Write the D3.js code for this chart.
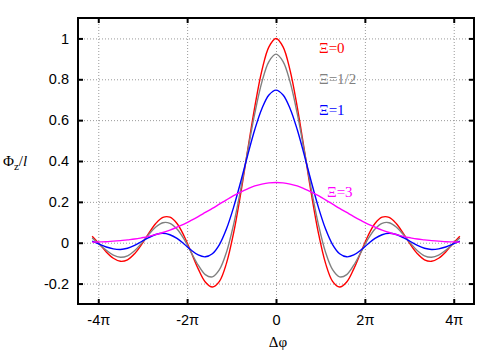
<!DOCTYPE html>
<html>
<head>
<meta charset="utf-8">
<script src="https://cdn.jsdelivr.net/npm/d3@7"></script>
<style>
  body { margin: 0; background: #fff; }
  .axis text { font-family: "Liberation Sans", Arial, sans-serif; font-size: 14.5px; fill: #000; }
  .axis line { stroke: #000; stroke-width: 2; }
  .grid line { stroke: #999; stroke-width: 1; stroke-dasharray: 1,2; }
  .lbl { font-family: "Liberation Serif", "Times New Roman", serif; font-size: 15px; }
</style>
</head>
<body>
<svg id="chart" width="500" height="350"></svg>
<script>
/* sample positions (radians) */
const xs = [-13,-12.5,-12,-11.5,-11,-10.5,-10,-9.5,-9,-8.5,-8,-7.5,-7,-6.5,-6,-5.5,-5,-4.5,-4,-3.5,-3,-2.5,-2,-1.5,-1,-0.5,
  0,
  0.5,1,1.5,2,2.5,3,3.5,4,4.5,5,5.5,6,6.5,7,7.5,8,8.5,9,9.5,10,10.5,11,11.5,12,12.5,13];

/* Xi = 0 */
const xi0 = [0.032,-0.005,-0.045,-0.076,-0.091,-0.084,-0.054,-0.008,0.046,0.094,0.124,0.125,0.094,0.033,-0.047,-0.128,-0.192,-0.217,-0.189,-0.100,0.047,0.239,0.455,0.665,0.842,0.959,
  1.000,
  0.959,0.842,0.665,0.455,0.239,0.047,-0.100,-0.189,-0.217,-0.192,-0.128,-0.047,0.033,0.094,0.125,0.124,0.094,0.046,-0.008,-0.054,-0.084,-0.091,-0.076,-0.045,-0.005,0.032];

/* Xi = 1/2 */
const xiHalf = [0.023,-0.007,-0.037,-0.061,-0.071,-0.064,-0.039,-0.002,0.040,0.077,0.098,0.095,0.067,0.017,-0.047,-0.110,-0.156,-0.167,-0.132,-0.046,0.089,0.260,0.449,0.633,0.786,0.887,
  0.923,
  0.887,0.786,0.633,0.449,0.260,0.089,-0.046,-0.132,-0.167,-0.156,-0.110,-0.047,0.017,0.067,0.095,0.098,0.077,0.040,-0.002,-0.039,-0.064,-0.071,-0.061,-0.037,-0.007,0.023];

/* Xi = 1 */
const xi1 = [0.008,-0.007,-0.021,-0.030,-0.033,-0.027,-0.013,0.006,0.025,0.040,0.046,0.039,0.021,-0.006,-0.036,-0.060,-0.069,-0.054,-0.009,0.068,0.173,0.297,0.429,0.554,0.656,0.723,
  0.747,
  0.723,0.656,0.554,0.429,0.297,0.173,0.068,-0.009,-0.054,-0.069,-0.060,-0.036,-0.006,0.021,0.039,0.046,0.040,0.025,0.006,-0.013,-0.027,-0.033,-0.030,-0.021,-0.007,0.008];

/* Xi = 3 */
const xi3 = [0.003,0.004,0.005,0.008,0.010,0.014,0.018,0.024,0.031,0.040,0.050,0.062,0.076,0.091,0.109,0.128,0.148,0.168,0.189,0.210,0.230,0.248,0.264,0.278,0.287,0.293,
  0.295,
  0.293,0.287,0.278,0.264,0.248,0.230,0.210,0.189,0.168,0.148,0.128,0.109,0.091,0.076,0.062,0.050,0.040,0.031,0.024,0.018,0.014,0.010,0.008,0.005,0.004,0.003];

const xTickVals   = [-4*Math.PI, -2*Math.PI, 0, 2*Math.PI, 4*Math.PI];
const xTickLabels = ["-4\u03c0", "-2\u03c0", "0", "2\u03c0", "4\u03c0"];
const yTickVals   = [-0.2, 0, 0.2, 0.4, 0.6, 0.8, 1];
const yTickLabels = ["-0.2", "0", "0.2", "0.4", "0.6", "0.8", "1"];

const series = [
  { name: "\u039e=0",   vals: xi0,    color: "#ff0000", lx: 319, ly: 53 },
  { name: "\u039e=1/2", vals: xiHalf, color: "#808080", lx: 319, ly: 84 },
  { name: "\u039e=1",   vals: xi1,    color: "#0000ff", lx: 319, ly: 115 },
  { name: "\u039e=3",   vals: xi3,    color: "#ff00ff", lx: 327, ly: 197 }
];

/* ---- layout ---- */
const m = { left: 78, right: 26, top: 18, bottom: 46 };
const W = 500, H = 350;
const w = W - m.left - m.right, h = H - m.top - m.bottom;

const svg = d3.select("#chart");
const g = svg.append("g").attr("transform", `translate(${m.left},${m.top})`);

const x = d3.scaleLinear().domain([-14, 14]).range([0, w]);
const y = d3.scaleLinear().domain([-0.3, 1.1]).range([h, 0]);

/* grid */
g.append("g").attr("class", "grid")
  .call(d3.axisBottom(x).tickValues(xTickVals).tickSize(h).tickFormat(""))
  .call(a => a.select(".domain").remove());
g.append("g").attr("class", "grid")
  .call(d3.axisLeft(y).tickValues(yTickVals).tickSize(-w).tickFormat(""))
  .call(a => a.select(".domain").remove());

/* curves */
const line = d3.line()
  .x((d, i) => x(xs[i]))
  .y(d => y(d))
  .curve(d3.curveCatmullRom.alpha(0.5));

series.forEach(s => {
  g.append("path")
    .attr("d", line(s.vals))
    .attr("fill", "none")
    .attr("stroke", s.color)
    .attr("stroke-width", 1.4);
  g.append("text")
    .attr("class", "lbl")
    .attr("x", s.lx - m.left).attr("y", s.ly - m.top)
    .attr("fill", s.color)
    .text(s.name);
});

/* axes with inward ticks, mirrored */
g.append("g").attr("class", "axis").attr("transform", `translate(0,${h})`)
  .call(d3.axisBottom(x).tickValues(xTickVals).tickSize(-5).tickPadding(11)
        .tickFormat((d, i) => xTickLabels[i]))
  .call(a => a.select(".domain").remove());
g.append("g").attr("class", "axis")
  .call(d3.axisTop(x).tickValues(xTickVals).tickSize(-5).tickFormat(""))
  .call(a => a.select(".domain").remove());
g.append("g").attr("class", "axis")
  .call(d3.axisLeft(y).tickValues(yTickVals).tickSize(-5).tickPadding(9)
        .tickFormat((d, i) => yTickLabels[i]))
  .call(a => a.select(".domain").remove());
g.append("g").attr("class", "axis").attr("transform", `translate(${w},0)`)
  .call(d3.axisRight(y).tickValues(yTickVals).tickSize(-5).tickFormat(""))
  .call(a => a.select(".domain").remove());

/* frame */
g.append("rect")
  .attr("width", w).attr("height", h)
  .attr("fill", "none").attr("stroke", "#000").attr("stroke-width", 2);

/* axis titles */
const yl = svg.append("text").attr("class", "lbl").attr("x", 3).attr("y", 166);
yl.append("tspan").text("\u03a6");
yl.append("tspan").attr("font-size", "11px").attr("dy", 4).text("z");
yl.append("tspan").attr("dy", -4).text("/");
yl.append("tspan").attr("font-style", "italic").text("l");

svg.append("text").attr("class", "lbl")
  .attr("x", 278).attr("y", 347)
  .attr("text-anchor", "middle")
  .text("\u0394\u03c6");
</script>
</body>
</html>
